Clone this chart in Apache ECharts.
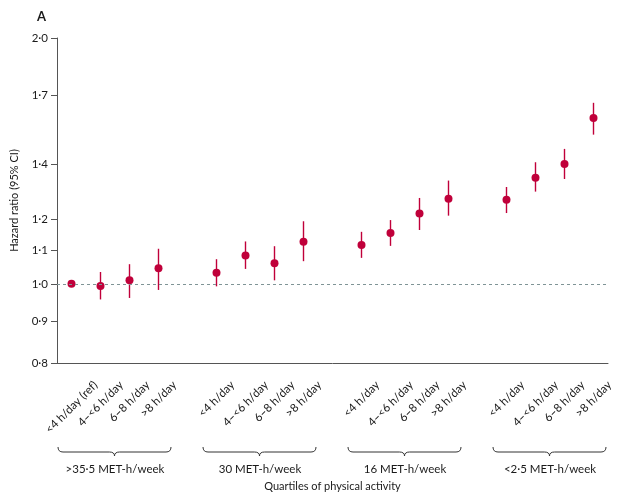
<!DOCTYPE html>
<html><head><meta charset="utf-8">
<script src="https://cdn.jsdelivr.net/npm/echarts@6/dist/echarts.min.js"></script>
<style>html,body{margin:0;padding:0;background:#fff}#c{width:618px;height:504px}</style>
</head><body><div id="c"></div>
<script>
// ---- data ----
const categories = ['<4 h/day (ref)','4–<6 h/day','6–8 h/day','>8 h/day','',
                    '<4 h/day','4–<6 h/day','6–8 h/day','>8 h/day','',
                    '<4 h/day','4–<6 h/day','6–8 h/day','>8 h/day','',
                    '<4 h/day','4–<6 h/day','6–8 h/day','>8 h/day'];
const hr    = [1.000, 0.994, 1.010, 1.045, null, 1.032, 1.083, 1.060, 1.126, null, 1.116, 1.154, 1.219, 1.271, null, 1.268, 1.349, 1.402, 1.596];
const lower = [1.000, 0.957, 0.961, 0.983, null, 0.993, 1.043, 1.010, 1.066, null, 1.076, 1.113, 1.164, 1.212, null, 1.221, 1.297, 1.344, 1.523];
const upper = [1.000, 1.034, 1.057, 1.104, null, 1.072, 1.127, 1.112, 1.193, null, 1.158, 1.197, 1.274, 1.338, null, 1.314, 1.409, 1.463, 1.666];
const yTicks = [0.8, 0.9, 1.0, 1.1, 1.2, 1.4, 1.7, 2.0];
const groupLabels = ['>35·5 MET-h/week', '30 MET-h/week', '16 MET-h/week', '<2·5 MET-h/week'];
const groupStart = [0, 5, 10, 15];
const groupSize = 4;

// ---- style ----
const FONT = 'Lato';
const RED = '#C0003A';
const TXT = '#1a1a1a';
const AX = '#555';
const CAT_SIZE = 11.5;
const CAT_TOP = 383;

const scatterData = [], barData = [];
hr.forEach(function (v, i) {
  if (v == null) return;
  scatterData.push([i, Math.log(v)]);
  barData.push([i, Math.log(lower[i]), Math.log(upper[i])]);
});

const fmt = function (v) { return Math.exp(v).toFixed(1).replace('.', '·'); };
const logTicks = yTicks.map(Math.log);

const chart = echarts.init(document.getElementById('c'), null, { renderer: 'canvas' });
chart.setOption({
  animation: false,
  textStyle: { fontFamily: FONT },
  title: { text: 'A', left: 37, top: 10, padding: 0,
    textStyle: { fontSize: 13, fontWeight: 'bold', color: TXT, fontFamily: FONT } },
  grid: { left: 57, right: 10, top: 38, bottom: 141 },
  xAxis: [{
    type: 'category', data: categories, boundaryGap: true,
    axisLine: { onZero: false, lineStyle: { color: AX, width: 1 } },
    axisTick: { interval: 0, length: 5, lineStyle: { color: AX } },
    axisLabel: { show: false },
    name: 'Quartiles of physical activity', nameLocation: 'middle', nameGap: 118,
    nameTextStyle: { fontSize: 11, color: TXT, fontFamily: FONT }
  }, {
    type: 'value', min: 0, max: 19, position: 'bottom',
    axisLine: { show: false, onZero: false }, axisTick: { show: false }, splitLine: { show: false },
    axisLabel: { customValues: groupStart.map(function (s) { return s + groupSize / 2; }),
      margin: 100, fontSize: 11.5, color: TXT, fontFamily: FONT,
      formatter: function (v) { return groupLabels[groupStart.indexOf(v - groupSize / 2)]; } }
  }],
  yAxis: {
    type: 'value', min: Math.log(0.8), max: Math.log(2.0),
    axisLine: { show: true, onZero: false, lineStyle: { color: AX, width: 1 } },
    axisTick: { show: true, length: 6, customValues: logTicks, lineStyle: { color: AX } },
    axisLabel: { customValues: logTicks, formatter: fmt, margin: 9, fontSize: 11.5, color: TXT, fontFamily: FONT },
    splitLine: { show: false },
    name: 'Hazard ratio (95% CI)', nameLocation: 'middle', nameGap: 37,
    nameTextStyle: { fontSize: 11, color: TXT, fontFamily: FONT }
  },
  series: [{
    type: 'custom', xAxisIndex: 0, data: barData, encode: { x: 0, y: [1, 2] },
    renderItem: function (params, api) {
      const a = api.coord([api.value(0), api.value(1)]);
      const b = api.coord([api.value(0), api.value(2)]);
      return { type: 'line', shape: { x1: a[0], y1: a[1], x2: b[0], y2: b[1] },
        style: { stroke: RED, lineWidth: 1.4 } };
    },
    z: 2
  }, {
    type: 'scatter', xAxisIndex: 0, data: scatterData, symbolSize: 8,
    itemStyle: { color: RED, opacity: 1 }, z: 3,
    markLine: { silent: true, symbol: 'none', label: { show: false },
      lineStyle: { color: '#7f9496', type: [3, 3], width: 1 },
      data: [{ yAxis: 0 }] }
  }]
});

// rotated category labels, centred on each category through the axis scale
const ctx = document.createElement('canvas').getContext('2d');
ctx.font = CAT_SIZE + 'px ' + FONT;
const graphics = [];
categories.forEach(function (c, i) {
  if (!c) return;
  const w = ctx.measureText(c).width;
  const cx = chart.convertToPixel({ xAxisIndex: 0 }, i);
  graphics.push({ type: 'text', x: cx, y: CAT_TOP + 0.354 * w, rotation: Math.PI / 4, silent: true,
    style: { text: c, fontSize: CAT_SIZE, fontFamily: FONT, fill: TXT, align: 'center', verticalAlign: 'middle' } });
});

// braces under each group, positioned from the group axis scale
const ST = { stroke: '#333', lineWidth: 1, fill: null };
groupStart.forEach(function (s) {
  const x0 = chart.convertToPixel({ xAxisIndex: 1 }, s) + 1;
  const x1 = chart.convertToPixel({ xAxisIndex: 1 }, s + groupSize) - 2;
  const xm = (x0 + x1) / 2;
  const yt = 447, yl = 452, yb = 456;
  graphics.push(
    { type: 'bezierCurve', silent: true, shape: { x1: x0, y1: yt, x2: x0 + 5, y2: yl, cpx1: x0, cpy1: yl }, style: ST },
    { type: 'line', silent: true, shape: { x1: x0 + 5, y1: yl, x2: xm - 5, y2: yl }, style: ST },
    { type: 'bezierCurve', silent: true, shape: { x1: xm - 5, y1: yl, x2: xm, y2: yb, cpx1: xm, cpy1: yl }, style: ST },
    { type: 'bezierCurve', silent: true, shape: { x1: xm, y1: yb, x2: xm + 5, y2: yl, cpx1: xm, cpy1: yl }, style: ST },
    { type: 'line', silent: true, shape: { x1: xm + 5, y1: yl, x2: x1 - 5, y2: yl }, style: ST },
    { type: 'bezierCurve', silent: true, shape: { x1: x1 - 5, y1: yl, x2: x1, y2: yt, cpx1: x1, cpy1: yl }, style: ST }
  );
});
chart.setOption({ graphic: graphics });
</script>
</body></html>
